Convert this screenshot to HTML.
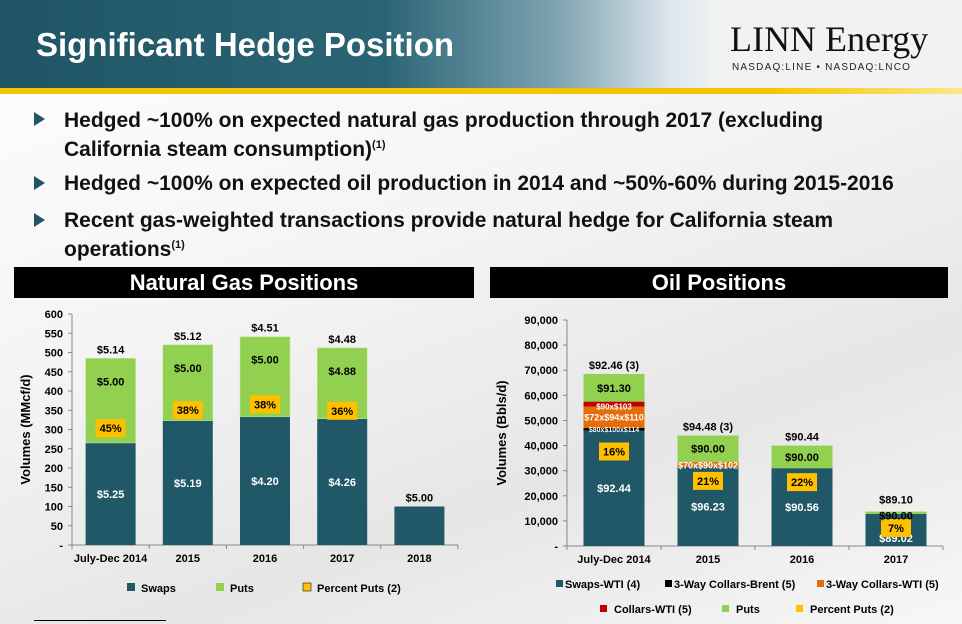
<!DOCTYPE html>
<html><head><meta charset="utf-8"><style>
body{margin:0;width:962px;height:624px;overflow:hidden;font-family:"Liberation Sans",sans-serif;background:linear-gradient(160deg,#fff 0%,#f4f4f4 40%,#e6e6e6 70%,#f7f7f7 100%);position:relative}
.hdr{position:absolute;left:0;top:0;width:962px;height:88px;background:linear-gradient(90deg,#1f5565 0%,#2b6575 40%,#7fa3b0 58%,#dfe8ee 70%,#f2f2f2 75%)}
.ybar{position:absolute;left:0;top:88px;width:962px;height:6px;background:linear-gradient(90deg,#f5c400 80%,#fbe88a 100%)}
.title{position:absolute;left:36px;top:26px;color:#fff;font-size:33px;font-weight:bold}
.logo{position:absolute;left:730px;top:18px;font-family:"Liberation Serif",serif;font-size:36px;color:#111}
.nas{position:absolute;left:732px;top:62px;font-size:10px;letter-spacing:1.2px;color:#222}
.b{position:absolute;left:64px;font-size:21px;font-weight:bold;color:#111;line-height:24px}
.tri{position:absolute;left:34px;width:0;height:0;border-left:11px solid #1f5565;border-top:7px solid transparent;border-bottom:7px solid transparent}
.ph{position:absolute;top:267px;height:31px;background:#000;color:#fff;font-weight:bold;font-size:22px;text-align:center;line-height:31px}
sup{font-size:11px}
</style></head><body>
<div class="hdr"></div>
<div class="ybar"></div>
<div class="title">Significant Hedge Position</div>
<div class="logo">LINN Energy</div>
<div class="nas">NASDAQ:LINE • NASDAQ:LNCO</div>
<div class="tri" style="top:112px"></div>
<div class="b" style="top:109px">Hedged ~100% on expected natural gas production through 2017 (excluding<br>California steam consumption)<sup>(1)</sup></div>
<div class="tri" style="top:176px"></div>
<div class="b" style="top:172px">Hedged ~100% on expected oil production in 2014 and ~50%-60% during 2015-2016</div>
<div class="tri" style="top:213px"></div>
<div class="b" style="top:209px">Recent gas-weighted transactions provide natural hedge for California steam<br>operations<sup>(1)</sup></div>
<div class="ph" style="left:14px;width:460px">Natural Gas Positions</div>
<div class="ph" style="left:490px;width:458px">Oil Positions</div>
<div style="position:absolute;left:34px;top:620px;width:132px;height:1px;background:#000"></div>
<svg id="s" width="962" height="624" style="position:absolute;left:0;top:0" font-family="Liberation Sans, sans-serif" font-weight="bold"></svg>
<script>
const gasCats=["July-Dec 2014","2015","2016","2017","2018"];
const gasSwaps=[265,323,333,328,100];
const gasPuts=[220,197,208,184,0];
const gasSwapLbl=["$5.25","$5.19","$4.20","$4.26",""];
const gasPutLbl=["$5.00","$5.00","$5.00","$4.88",""];
const gasTopLbl=["$5.14","$5.12","$4.51","$4.48","$5.00"];
const gasPct=["45%","38%","38%","36%",""];
const gasTicks=[0,50,100,150,200,250,300,350,400,450,500,550,600];
const oilCats=["July-Dec 2014","2015","2016","2017"];
const oilSwaps=[46000,31500,31000,12800];
const oilBrent=[1000,0,0,0];
const oilWti3=[8500,2000,0,0];
const oilCollars=[2000,0,0,0];
const oilPuts=[11000,10500,9000,900];
const oilSwapLbl=["$92.44","$96.23","$90.56","$89.02"];
const oilPutLbl=["$91.30","$90.00","$90.00","$90.00"];
const oilTopLbl=["$92.46 (3)","$94.48 (3)","$90.44","$89.10"];
const oilPct=["16%","21%","22%","7%"];
const oilTicks=[0,10000,20000,30000,40000,50000,60000,70000,80000,90000];
const S=document.getElementById('s');const NS='http://www.w3.org/2000/svg';
function el(t,a,txt,name){const e=document.createElementNS(NS,t);for(const k in a)e.setAttribute(k,a[k]);if(txt!==undefined)e.textContent=txt;


S.appendChild(e);return e;}
const TEAL='#215868',GREEN='#92d050',YEL='#ffc000';
function axes(x0,x1,yT,yB,max,ticks,fmt,cats,n,title,tx){
  const y=v=>yB-(v/max)*(yB-yT);
  el('line',{x1:x0,x2:x0,y1:yT,y2:yB,stroke:'#888'},undefined,'y-axis');
  el('line',{x1:x0,x2:x1,y1:yB,y2:yB,stroke:'#888'},undefined,'x-axis');
  ticks.forEach(t=>{el('line',{x1:x0-4,x2:x0,y1:y(t),y2:y(t),stroke:'#888'},undefined,'y-tick');
    el('text',{x:x0-9,y:y(t)+4,'text-anchor':'end','font-size':11},t===0?'-':fmt(t),'y-tick-label');});
  const bw=(x1-x0)/n;
  for(let i=0;i<=n;i++)el('line',{x1:x0+i*bw,x2:x0+i*bw,y1:yB,y2:yB+4,stroke:'#888'},undefined,'x-tick');
  cats.forEach((c,i)=>el('text',{x:x0+bw*(i+.5),y:yB+17,'text-anchor':'middle','font-size':11},c,'x-tick-label'));
  el('text',{transform:`translate(${tx},${(yT+yB)/2}) rotate(-90)`,'text-anchor':'middle','font-size':13},title,'y-axis-title');
  return {y,bw};
}
function pct(cx,cy,t){if(!t)return;el('rect',{x:cx-15,y:cy-9,width:30,height:18,fill:YEL},undefined,'percent-puts-box');el('text',{x:cx,y:cy+4,'text-anchor':'middle','font-size':11},t,'percent-puts-label');}
// gas
{const x0=72,x1=458,yT=314,yB=545;const {y,bw}=axes(x0,x1,yT,yB,600,gasTicks,v=>v,gasCats,5,'Volumes (MMcf/d)',30);
gasCats.forEach((c,i)=>{const cx=x0+bw*(i+.5),w=50;const s=gasSwaps[i],p=gasPuts[i];
 el('rect',{x:cx-w/2,y:y(s),width:w,height:yB-y(s),fill:TEAL},undefined,'bar-gas-swaps');
 if(p)el('rect',{x:cx-w/2,y:y(s+p),width:w,height:y(s)-y(s+p),fill:GREEN,stroke:'#c8e6a8','stroke-width':.5},undefined,'bar-gas-puts');
 if(gasSwapLbl[i])el('text',{x:cx,y:(y(s)+yB)/2+4,'text-anchor':'middle','font-size':11,fill:'#fff'},gasSwapLbl[i],'swap-price-label');
 if(p){el('text',{x:cx,y:y(s+p)+27,'text-anchor':'middle','font-size':11},gasPutLbl[i],'put-price-label');pct(cx,(y(s)+y(s+p)+27)/2+14,gasPct[i]);}
 el('text',{x:cx,y:y(s+p)-5,'text-anchor':'middle','font-size':11},gasTopLbl[i],'total-price-label');});
[[127,'Swaps',TEAL],[216,'Puts',GREEN],[303,'Percent Puts (2)',YEL]].forEach(([x,t,c])=>{el('rect',{x:x,y:583,width:8,height:8,fill:c,stroke:c===YEL?'#333':'none','stroke-width':.7},undefined,'legend-swatch');el('text',{x:x+14,y:592,'font-size':11},t,'legend-entry');});}
// oil
{const x0=567,x1=943,yT=320,yB=546;const {y,bw}=axes(x0,x1,yT,yB,90000,oilTicks,v=>v.toLocaleString('en-US'),oilCats,4,'Volumes (Bbls/d)',506);
const layers=[[oilSwaps,TEAL],[oilBrent,'#000'],[oilWti3,'#e46c0a'],[oilCollars,'#c00000'],[oilPuts,GREEN]];
oilCats.forEach((c,i)=>{const cx=x0+bw*(i+.5),w=61;let acc=0;
 layers.forEach(([arr,col])=>{const v=arr[i];if(!v)return;el('rect',{x:cx-w/2,y:y(acc+v),width:w,height:y(acc)-y(acc+v),fill:col},undefined,'bar-oil-segment');acc+=v;});
 const s=oilSwaps[i];
 el('text',{x:cx,y:i===3?y(0)-4:(y(s)+yB)/2+4,'text-anchor':'middle','font-size':11,fill:'#fff'},oilSwapLbl[i],'swap-price-label');
 pct(cx,i===3?y(0)-18:y(s)+(i===0?21:14),oilPct[i]);
 const pb=acc-oilPuts[i];
 el('text',{x:cx,y:i===3?y(acc)+8:(y(pb)+y(acc))/2+4,'text-anchor':'middle','font-size':11,fill:'#000'},oilPutLbl[i],'put-price-label');
 el('text',{x:cx,y:y(acc)-(i===3?8:5),'text-anchor':'middle','font-size':11},oilTopLbl[i],'total-price-label');});
const cx0=x0+bw*.5;
el('text',{x:cx0,y:y(56000)+4,'text-anchor':'middle','font-size':8,fill:'#fff'},'$90x$103','collar-label');
el('text',{x:cx0,y:y(51500)+4,'text-anchor':'middle','font-size':9,fill:'#fff'},'$72x$94x$110','wti-collar-label');
el('text',{x:cx0,y:y(46500)+3,'text-anchor':'middle','font-size':7,fill:'#fff'},'$80x$100x$114','brent-collar-label');
el('text',{x:x0+bw*1.5,y:y(32500)+4,'text-anchor':'middle','font-size':9,fill:'#fff'},'$70x$90x$102','wti-collar-label');
[[556,588,'Swaps-WTI (4)',TEAL],[665,588,'3-Way Collars-Brent (5)','#000'],[817,588,'3-Way Collars-WTI (5)','#e46c0a'],[600,613,'Collars-WTI (5)','#c00000'],[722,613,'Puts',GREEN],[796,613,'Percent Puts (2)',YEL]].forEach(([x,yy,t,c])=>{el('rect',{x:x,y:yy-8,width:7,height:7,fill:c},undefined,'legend-swatch');el('text',{x:x+(t==='Puts'||t.startsWith('Coll')||t.startsWith('Perc')?14:9),y:yy,'font-size':11},t,'legend-entry');});}
</script>
</body></html>
